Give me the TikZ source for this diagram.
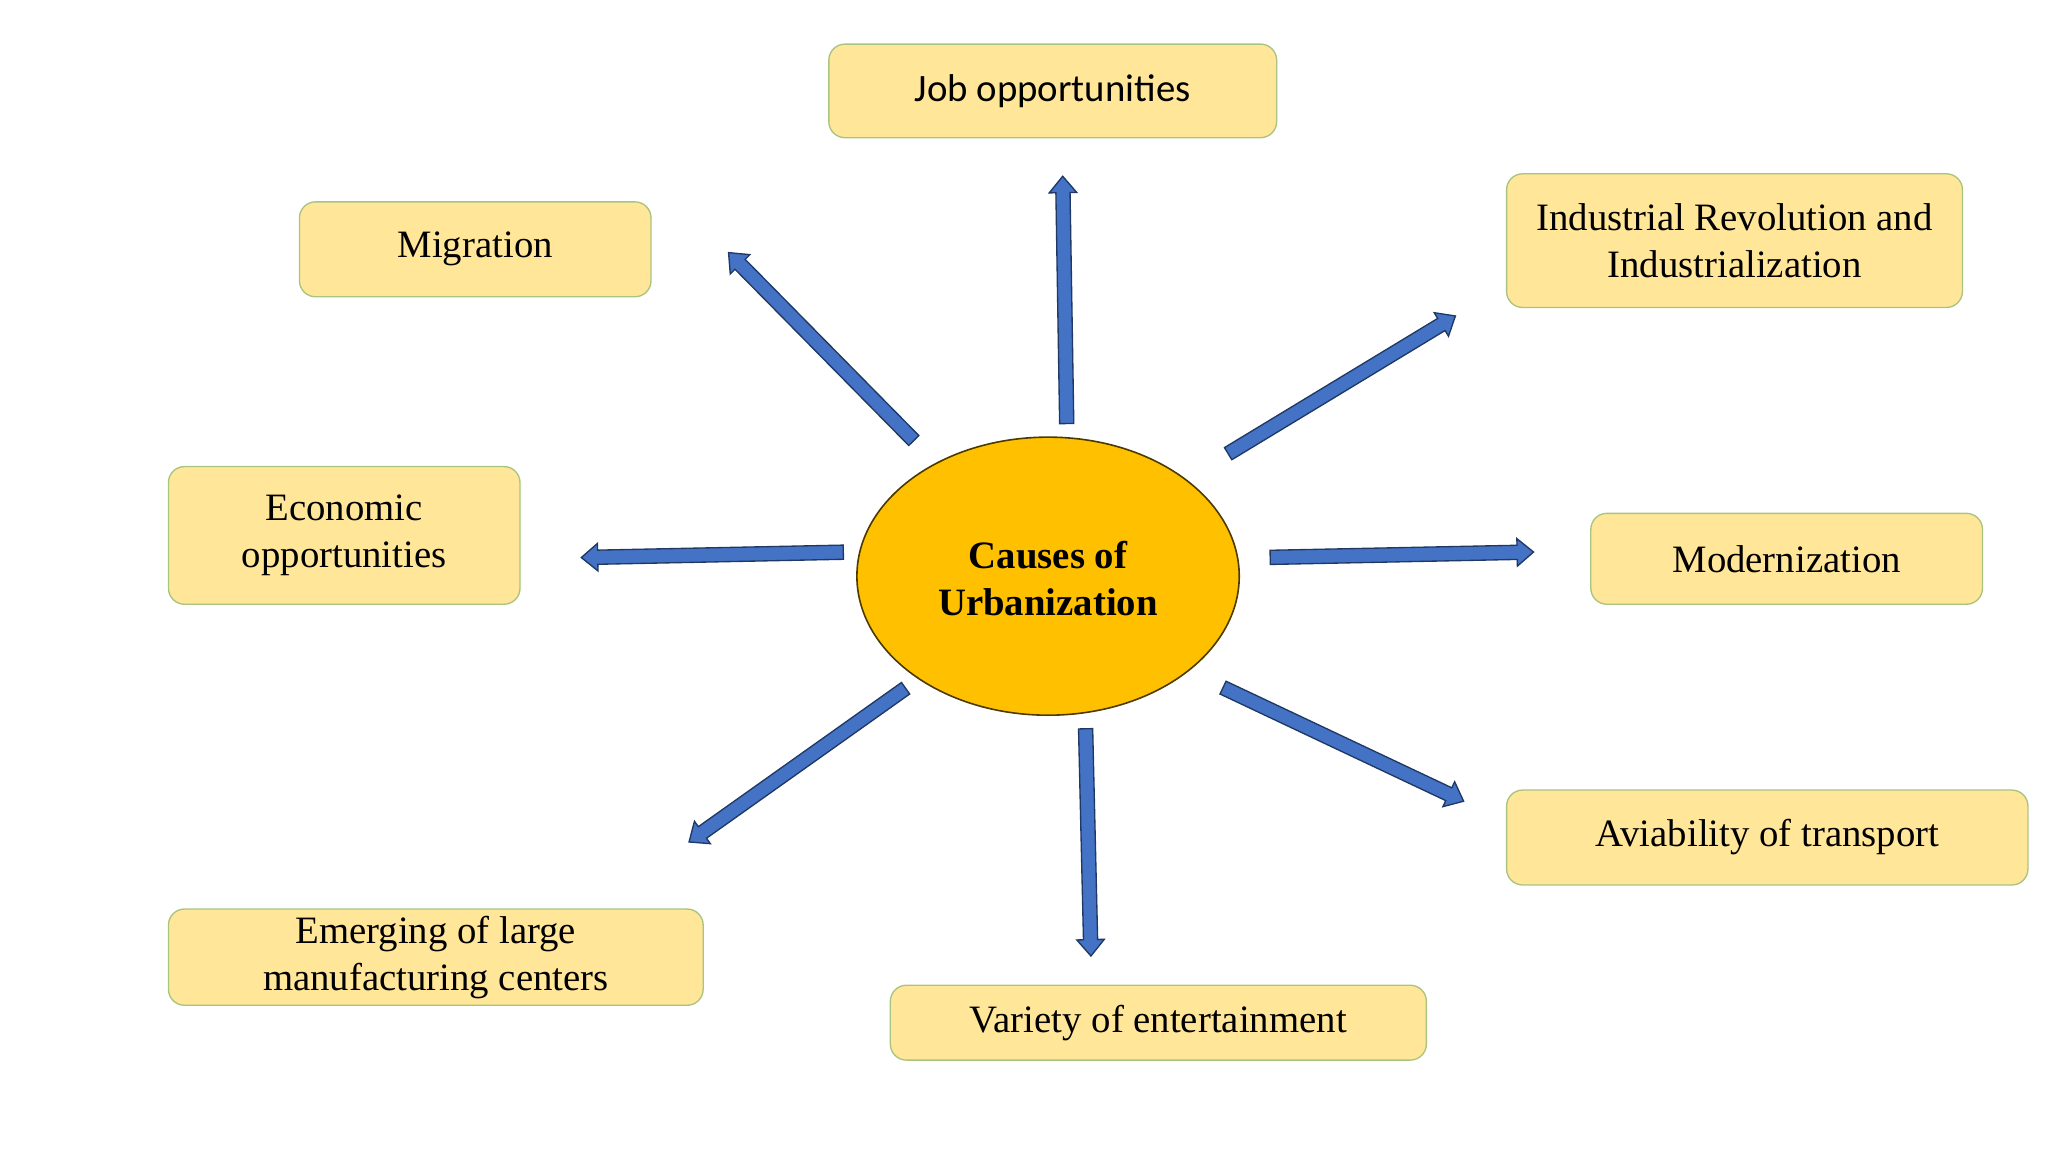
\documentclass[tikz,border=0pt]{standalone}
\usepackage{fontspec}
\setmainfont{Liberation Serif}
\newfontfamily\calfont{Carlito}
\usetikzlibrary{shapes.arrows,shapes.geometric,calc}
\definecolor{boxfill}{HTML}{FFE699}
\definecolor{boxline}{HTML}{A9C47F}
\definecolor{arrfill}{HTML}{4472C4}
\definecolor{arrline}{HTML}{1F3864}
\definecolor{ellfill}{HTML}{FFC000}
\begin{document}
\begin{tikzpicture}[x=0.5pt,y=-0.5pt,
  cbox/.style={draw=boxline,fill=boxfill,rounded corners=6pt,line width=0.5pt,font=\fontsize{14.5}{17.5}\selectfont,align=center},
  barr/.style={single arrow,draw=arrline,fill=arrfill,line width=0.5pt,single arrow head extend=2.5pt,single arrow head indent=0pt,inner xsep=0pt,inner ysep=2.4pt,single arrow tip angle=80}]
\useasboundingbox (0,0) rectangle (1532,862);
\newcommand\cbx[6]{\draw[cbox] (#2,#3) rectangle (#4,#5);
  \node[font=\fontsize{14.5}{17.5}\selectfont,align=center] (#1) at ({(#2+#4)/2},{(#3+#5)/2}) {#6};}
\cbx{job}{620}{33}{955}{103}{\calfont Job opportunities}
\cbx{mig}{224}{151}{487}{222}{Migration}
\cbx{ind}{1127}{130}{1468}{230}{Industrial Revolution and\\Industrialization}
\cbx{eco}{126}{349}{389}{452}{Economic\\opportunities}
\cbx{mod}{1190}{384}{1483}{452}{Modernization}
\cbx{avi}{1127}{591}{1517}{662}{Aviability of transport}
\cbx{eme}{126}{680}{526}{752}{Emerging of large\\manufacturing centers}
\cbx{var}{666}{737}{1067}{793}{Variety of entertainment}
\node[ellipse,draw=black!70!ellfill,fill=ellfill,minimum width=143pt,minimum height=104pt,line width=0.6pt,inner sep=0pt] (c) at (784,431) {};
\node[font=\bfseries\fontsize{14.5}{17.5}\selectfont,align=center] (ct) at (784,433) {Causes of\\Urbanization};
\foreach \i/\xa/\ya/\xb/\yb in {1/798/320/795/135, 2/686/332/547/191, 3/916/341/1086/238, 4/634/413/438/417, 5/947/417/1144/413, 6/680/513/518/628, 7/812/542/816/712, 8/912/513/1092/598}{
  \coordinate (s\i) at (\xa,\ya);
  \coordinate (e\i) at (\xb,\yb);
  \path let \p1=(s\i), \p2=(e\i), \n1={atan2(\y2-\y1,\x2-\x1)}, \n2={veclen(\x2-\x1,\y2-\y1)} in
    node[barr,rotate=\n1,minimum height=\n2] (a\i) at ($(s\i)!0.5!(e\i)$) {};
}
\end{tikzpicture}
\end{document}
